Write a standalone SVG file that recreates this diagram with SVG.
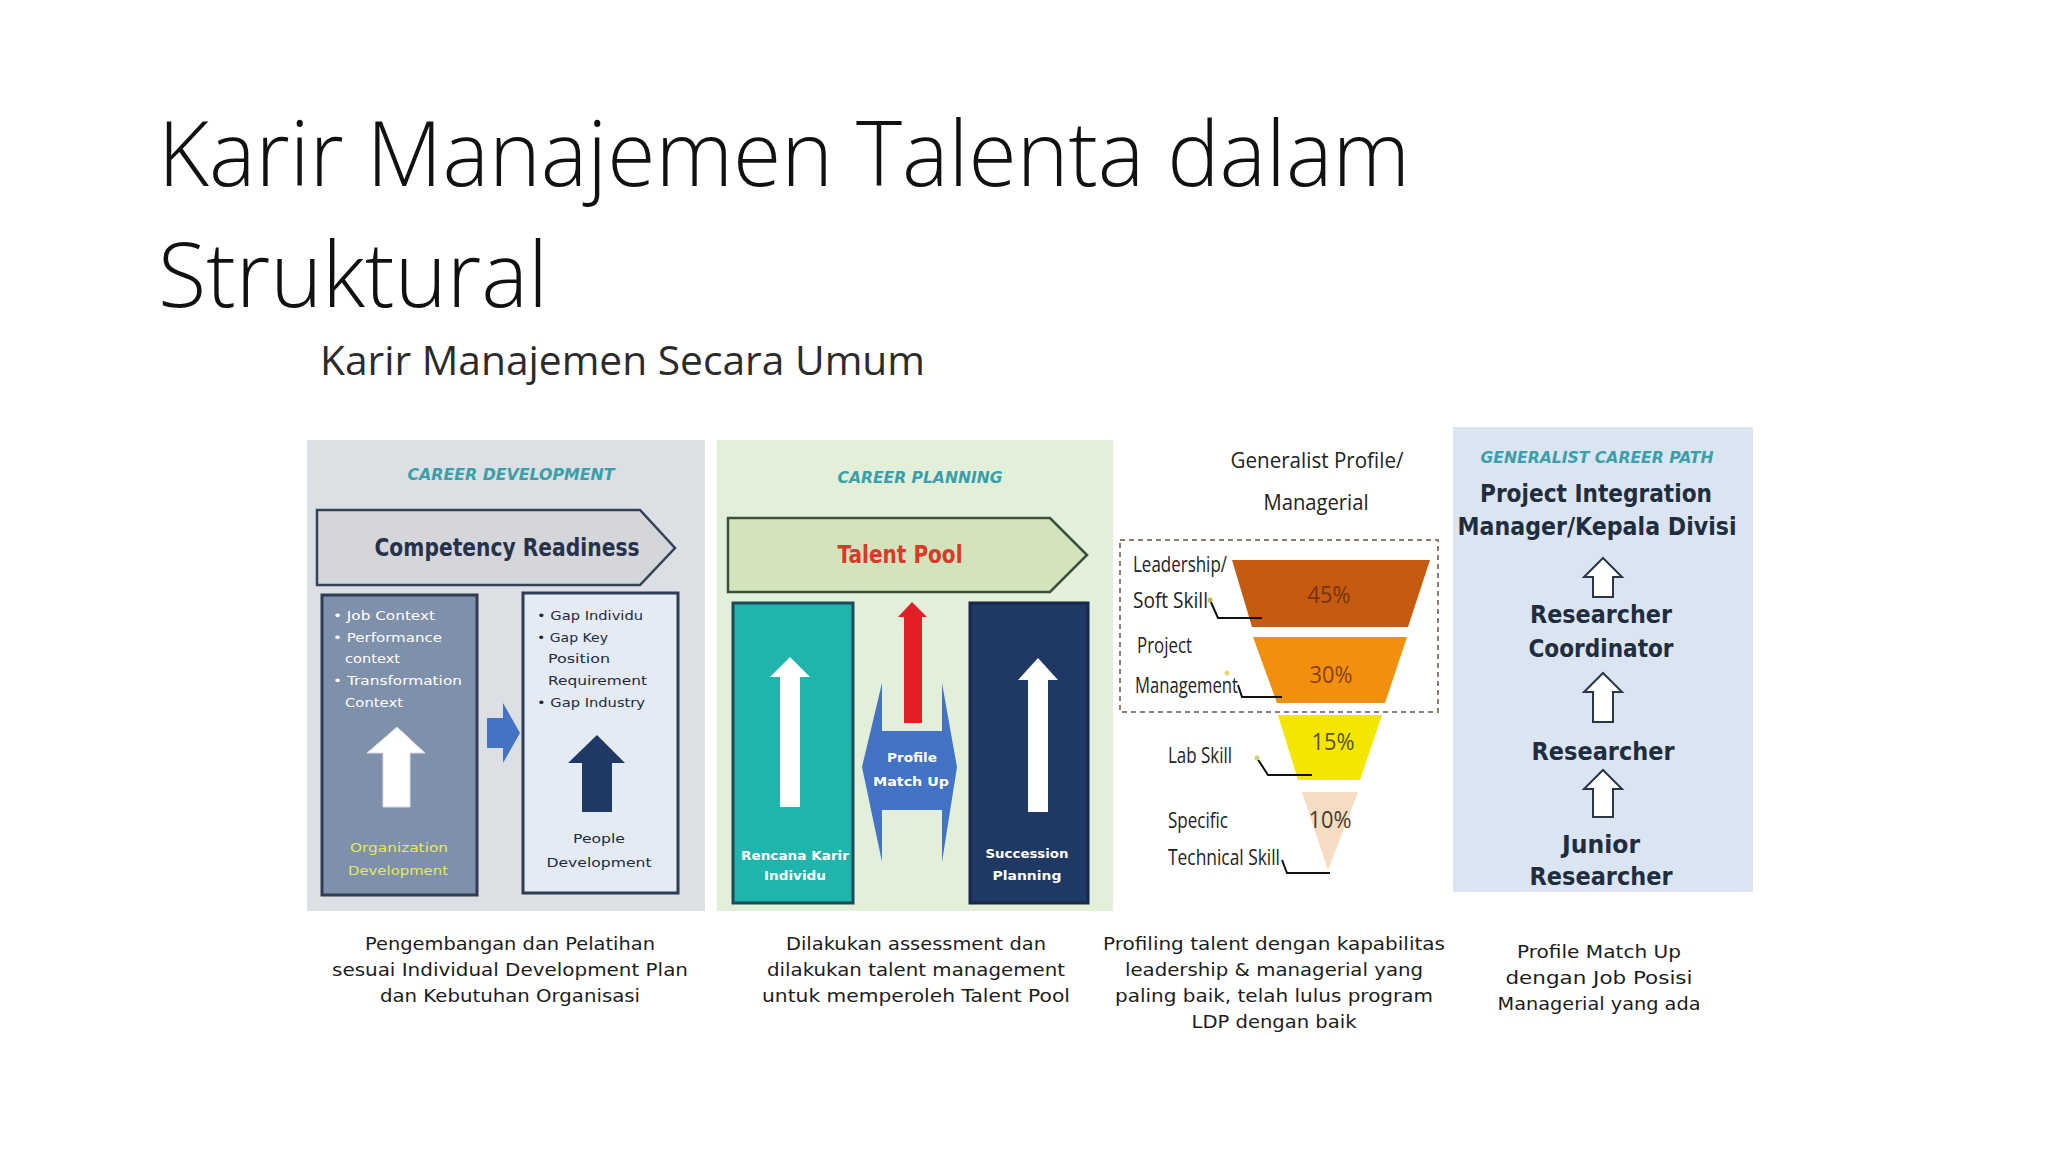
<svg xmlns="http://www.w3.org/2000/svg" width="2048" height="1152" viewBox="0 0 2048 1152">
<style>
.title{font-family:"Open Sans","Liberation Sans",sans-serif;font-weight:300;font-size:90px;fill:#111}
.sub{font-family:"Open Sans","Liberation Sans",sans-serif;font-size:40px;fill:#2b2b2b}
.hdr{font-family:"DejaVu Sans",sans-serif;font-style:italic;font-weight:bold;font-size:16px;fill:#3a9fa8}
.big{font-family:"DejaVu Sans",sans-serif;font-weight:bold;font-size:24px;fill:#25324a}
.sm{font-family:"DejaVu Sans",sans-serif;font-size:13px}
.smb{font-family:"DejaVu Sans",sans-serif;font-weight:bold;font-size:13px;fill:#fff}
.cap{font-family:"DejaVu Sans",sans-serif;font-size:18px;fill:#1c1c1c}
.cond{font-family:"Open Sans","Liberation Sans",sans-serif;font-size:21px;fill:#222}
.pct{font-family:"Open Sans","Liberation Sans",sans-serif;font-size:24px}
.path{font-family:"DejaVu Sans",sans-serif;font-weight:bold;font-size:24px;fill:#1f2d40}
.wa{fill:#fff}
.oa{fill:#fff;stroke:#2a3548;stroke-width:2}
.lead{fill:none;stroke:#111;stroke-width:2}
</style>

<g id="title">
<text class="title" x="158" y="186" textLength="1252" lengthAdjust="spacingAndGlyphs">Karir Manajemen Talenta dalam</text>
<text class="title" x="158" y="307" textLength="390" lengthAdjust="spacingAndGlyphs">Struktural</text>
<text class="sub" x="320" y="375" textLength="605" lengthAdjust="spacingAndGlyphs">Karir Manajemen Secara Umum</text>
</g>

<g id="career-development">
<rect x="307" y="440" width="398" height="471" fill="#dcdfe3"/>
<text class="hdr" x="511" y="480" text-anchor="middle" textLength="207" lengthAdjust="spacingAndGlyphs">CAREER DEVELOPMENT</text>
<g id="competency-readiness">
<polygon points="317,510 640,510 675,548 640,585 317,585" fill="#d5d6da" stroke="#34415a" stroke-width="2.5"/>
<text class="big" x="507" y="556" text-anchor="middle" textLength="265" lengthAdjust="spacingAndGlyphs">Competency Readiness</text>
</g>
<g id="organization-development">
<rect x="322" y="595" width="155" height="300" fill="#7e90aa" stroke="#2e3d55" stroke-width="3"/>
<g class="sm" fill="#fff">
<text x="333" y="620" textLength="102" lengthAdjust="spacingAndGlyphs">• Job Context</text>
<text x="333" y="642" textLength="109" lengthAdjust="spacingAndGlyphs">• Performance</text>
<text x="345" y="663" textLength="55" lengthAdjust="spacingAndGlyphs">context</text>
<text x="333" y="685" textLength="129" lengthAdjust="spacingAndGlyphs">• Transformation</text>
<text x="345" y="707" textLength="58" lengthAdjust="spacingAndGlyphs">Context</text>
</g>
<polygon class="wa" points="397,727 425,753 410,753 410,807 383,807 383,753 367,753" stroke="#d8dde6" stroke-width="1"/>
<text class="sm" x="399" y="852" text-anchor="middle" fill="#e6ea5c" textLength="98" lengthAdjust="spacingAndGlyphs">Organization</text>
<text class="sm" x="398" y="875" text-anchor="middle" fill="#e6ea5c" textLength="100" lengthAdjust="spacingAndGlyphs">Development</text>
</g>
<polygon id="cd-link" points="487,718 503,718 503,703 520,733 503,763 503,748 487,748" fill="#4472c4"/>
<g id="people-development">
<rect x="523" y="593" width="155" height="300" fill="#e4ebf5" stroke="#2e3d55" stroke-width="3"/>
<g class="sm" fill="#1f2a3a">
<text x="537" y="620" textLength="106" lengthAdjust="spacingAndGlyphs">• Gap Individu</text>
<text x="537" y="642" textLength="71" lengthAdjust="spacingAndGlyphs">• Gap Key</text>
<text x="548" y="663" textLength="62" lengthAdjust="spacingAndGlyphs">Position</text>
<text x="548" y="685" textLength="99" lengthAdjust="spacingAndGlyphs">Requirement</text>
<text x="537" y="707" textLength="108" lengthAdjust="spacingAndGlyphs">• Gap Industry</text>
</g>
<polygon points="597,735 625,763 612,763 612,812 582,812 582,763 568,763" fill="#1f3864"/>
<text class="sm" x="599" y="843" text-anchor="middle" fill="#1f2a3a" textLength="52" lengthAdjust="spacingAndGlyphs">People</text>
<text class="sm" x="599" y="867" text-anchor="middle" fill="#1f2a3a" textLength="105" lengthAdjust="spacingAndGlyphs">Development</text>
</g>
</g>

<g id="career-planning">
<rect x="717" y="440" width="396" height="471" fill="#e2efd9"/>
<text class="hdr" x="920" y="483" text-anchor="middle" textLength="165" lengthAdjust="spacingAndGlyphs">CAREER PLANNING</text>
<g id="talent-pool">
<polygon points="728,518 1050,518 1087,555 1050,592 728,592" fill="#d3e4bd" stroke="#3c4f3a" stroke-width="2.5"/>
<text class="big" x="900" y="563" text-anchor="middle" fill="#d83a2a" style="fill:#d83a2a" textLength="125" lengthAdjust="spacingAndGlyphs">Talent Pool</text>
</g>
<g id="rencana-karir">
<rect x="733" y="603" width="120" height="300" fill="#1fb5ad" stroke="#1c4a5a" stroke-width="3"/>
<polygon class="wa" points="790,657 810,677 800,677 800,807 780,807 780,677 770,677"/>
<text class="smb" x="795" y="860" text-anchor="middle" textLength="108" lengthAdjust="spacingAndGlyphs">Rencana Karir</text>
<text class="smb" x="795" y="880" text-anchor="middle" textLength="62" lengthAdjust="spacingAndGlyphs">Individu</text>
</g>
<g id="succession-planning">
<rect x="970" y="603" width="118" height="300" fill="#1f3864" stroke="#17284a" stroke-width="3"/>
<polygon class="wa" points="1038,658 1058,680 1048,680 1048,812 1028,812 1028,680 1018,680"/>
<text class="smb" x="1027" y="858" text-anchor="middle" textLength="83" lengthAdjust="spacingAndGlyphs">Succession</text>
<text class="smb" x="1027" y="880" text-anchor="middle" textLength="69" lengthAdjust="spacingAndGlyphs">Planning</text>
</g>
<polygon id="to-talent-pool" points="912,602 927,617 922,617 922,723 904,723 904,617 898,617" fill="#e21f26"/>
<g id="profile-match">
<polygon points="862,767 882,683 882,731 942,731 942,683 957,767 942,862 942,810 882,810 882,862" fill="#4472c4"/>
<text class="smb" x="912" y="762" text-anchor="middle" textLength="50" lengthAdjust="spacingAndGlyphs">Profile</text>
<text class="smb" x="911" y="786" text-anchor="middle" textLength="76" lengthAdjust="spacingAndGlyphs">Match Up</text>
</g>
</g>

<g id="generalist-profile">
<text class="cond" x="1317" y="468" text-anchor="middle" font-size="25" textLength="173" lengthAdjust="spacingAndGlyphs">Generalist Profile/</text>
<text class="cond" x="1316" y="510" text-anchor="middle" font-size="25" textLength="105" lengthAdjust="spacingAndGlyphs">Managerial</text>
<rect x="1120" y="540" width="318" height="172" fill="none" stroke="#8a7d70" stroke-width="2" stroke-dasharray="5 4"/>
<g id="funnel-45">
<polygon points="1232,560 1430,560 1408,627 1252,627" fill="#c55a11"/>
<text class="pct" x="1329" y="603" text-anchor="middle" fill="#7a3208" textLength="43" lengthAdjust="spacingAndGlyphs">45%</text>
</g>
<g id="funnel-30">
<polygon points="1253,637 1407,637 1385,703 1277,703" fill="#f0900e"/>
<text class="pct" x="1331" y="683" text-anchor="middle" fill="#8a3f0a" textLength="43" lengthAdjust="spacingAndGlyphs">30%</text>
</g>
<g id="funnel-15">
<polygon points="1278,715 1382,715 1360,780 1298,780" fill="#f3e600"/>
<text class="pct" x="1333" y="750" text-anchor="middle" fill="#5a5010" textLength="43" lengthAdjust="spacingAndGlyphs">15%</text>
</g>
<g id="funnel-10">
<polygon points="1302,792 1358,792 1328,870" fill="#f6dcc0"/>
<text class="pct" x="1330" y="828" text-anchor="middle" fill="#4a3a2a" textLength="43" lengthAdjust="spacingAndGlyphs">10%</text>
</g>
<g id="funnel-labels">
<text class="cond" x="1133" y="572" textLength="94" lengthAdjust="spacingAndGlyphs">Leadership/</text>
<text class="cond" x="1133" y="608" textLength="75" lengthAdjust="spacingAndGlyphs">Soft Skill</text>
<text class="cond" x="1137" y="653" textLength="55" lengthAdjust="spacingAndGlyphs">Project</text>
<text class="cond" x="1135" y="693" textLength="103" lengthAdjust="spacingAndGlyphs">Management</text>
<text class="cond" x="1168" y="763" textLength="64" lengthAdjust="spacingAndGlyphs">Lab Skill</text>
<text class="cond" x="1168" y="828" textLength="60" lengthAdjust="spacingAndGlyphs">Specific</text>
<text class="cond" x="1168" y="865" textLength="112" lengthAdjust="spacingAndGlyphs">Technical Skill</text>
</g>
</g>

<g id="connectors">
<polyline class="lead" points="1210,600 1218,618 1262,618"/>
<polyline class="lead" points="1238,685 1242,697 1282,697"/>
<polyline class="lead" points="1257,758 1268,775 1312,775"/>
<polyline class="lead" points="1282,860 1287,873 1330,873"/>
<circle cx="1210" cy="600" r="2.5" fill="#c8b04a"/>
<circle cx="1227" cy="673" r="2.5" fill="#e8d870"/>
<circle cx="1257" cy="758" r="2.5" fill="#c8d860"/>
</g>

<g id="generalist-career-path">
<rect x="1453" y="427" width="300" height="465" fill="#dbe5f1"/>
<text class="hdr" x="1597" y="463" text-anchor="middle" textLength="233" lengthAdjust="spacingAndGlyphs">GENERALIST CAREER PATH</text>
<g id="pim">
<text class="path" x="1596" y="502" text-anchor="middle" textLength="232" lengthAdjust="spacingAndGlyphs">Project Integration</text>
<text class="path" x="1597" y="535" text-anchor="middle" textLength="279" lengthAdjust="spacingAndGlyphs">Manager/Kepala Divisi</text>
</g>
<polygon class="oa" points="1603,558 1622,577 1613,577 1613,597 1593,597 1593,577 1584,577"/>
<g id="coordinator">
<text class="path" x="1601" y="623" text-anchor="middle" textLength="142" lengthAdjust="spacingAndGlyphs">Researcher</text>
<text class="path" x="1601" y="657" text-anchor="middle" textLength="145" lengthAdjust="spacingAndGlyphs">Coordinator</text>
</g>
<polygon class="oa" points="1603,673 1622,692 1613,692 1613,722 1593,722 1593,692 1584,692"/>
<g id="researcher">
<text class="path" x="1603" y="760" text-anchor="middle" textLength="143" lengthAdjust="spacingAndGlyphs">Researcher</text>
</g>
<polygon class="oa" points="1603,770 1622,789 1613,789 1613,817 1593,817 1593,789 1584,789"/>
<g id="junior">
<text class="path" x="1601" y="853" text-anchor="middle" textLength="78" lengthAdjust="spacingAndGlyphs">Junior</text>
<text class="path" x="1601" y="885" text-anchor="middle" textLength="143" lengthAdjust="spacingAndGlyphs">Researcher</text>
</g>
</g>

<g id="captions">
<text class="cap" x="510" y="950" text-anchor="middle" textLength="290" lengthAdjust="spacingAndGlyphs">Pengembangan dan Pelatihan</text>
<text class="cap" x="510" y="976" text-anchor="middle" textLength="356" lengthAdjust="spacingAndGlyphs">sesuai Individual Development Plan</text>
<text class="cap" x="510" y="1002" text-anchor="middle" textLength="260" lengthAdjust="spacingAndGlyphs">dan Kebutuhan Organisasi</text>
<text class="cap" x="916" y="950" text-anchor="middle" textLength="260" lengthAdjust="spacingAndGlyphs">Dilakukan assessment dan</text>
<text class="cap" x="916" y="976" text-anchor="middle" textLength="298" lengthAdjust="spacingAndGlyphs">dilakukan talent management</text>
<text class="cap" x="916" y="1002" text-anchor="middle" textLength="308" lengthAdjust="spacingAndGlyphs">untuk memperoleh Talent Pool</text>
<text class="cap" x="1274" y="950" text-anchor="middle" textLength="342" lengthAdjust="spacingAndGlyphs">Profiling talent dengan kapabilitas</text>
<text class="cap" x="1274" y="976" text-anchor="middle" textLength="298" lengthAdjust="spacingAndGlyphs">leadership &amp; managerial yang</text>
<text class="cap" x="1274" y="1002" text-anchor="middle" textLength="318" lengthAdjust="spacingAndGlyphs">paling baik, telah lulus program</text>
<text class="cap" x="1274" y="1028" text-anchor="middle" textLength="165" lengthAdjust="spacingAndGlyphs">LDP dengan baik</text>
<text class="cap" x="1599" y="958" text-anchor="middle" textLength="164" lengthAdjust="spacingAndGlyphs">Profile Match Up</text>
<text class="cap" x="1599" y="984" text-anchor="middle" textLength="187" lengthAdjust="spacingAndGlyphs">dengan Job Posisi</text>
<text class="cap" x="1599" y="1010" text-anchor="middle" textLength="203" lengthAdjust="spacingAndGlyphs">Managerial yang ada</text>
</g>
</svg>
